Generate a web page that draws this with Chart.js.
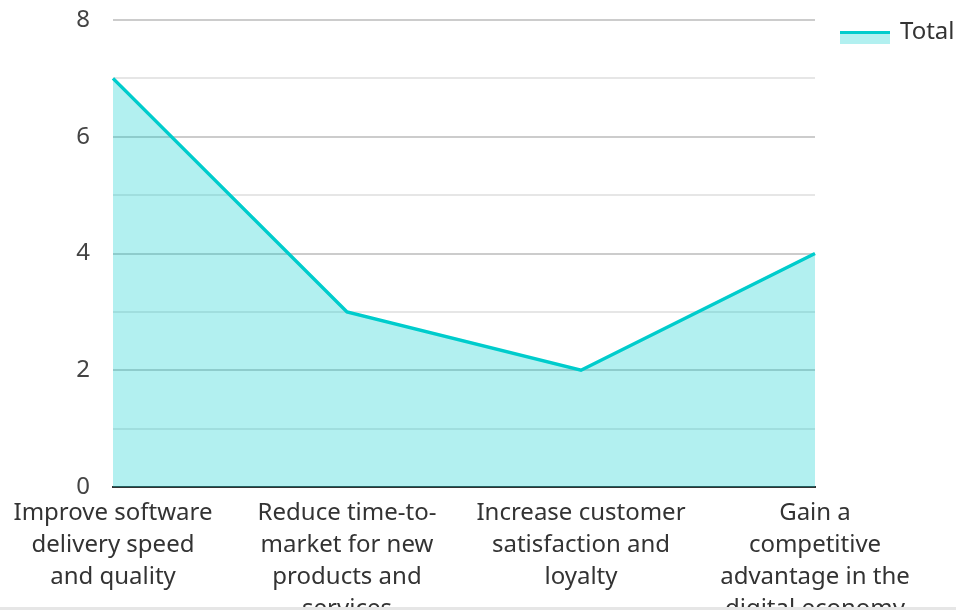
<!DOCTYPE html>
<html>
<head>
<meta charset="utf-8">
<script src="https://cdn.jsdelivr.net/npm/chart.js@4"></script>
<style>
  html, body { margin: 0; padding: 0; background: #fff; overflow: hidden; }
  #wrap { position: relative; width: 956px; height: 635px; }
  #edge { position: fixed; left: 0; top: 607px; width: 956px; height: 3px; background: #e6e6e6; }
</style>
</head>
<body>
<div id="wrap"><canvas id="chart"></canvas></div>
<div id="edge"></div>
<script>
const categories = [
    ["Improve software", "delivery speed", "and quality"],
    ["Reduce time-to-", "market for new", "products and", "services"],
    ["Increase customer", "satisfaction and", "loyalty"],
    ["Gain a", "competitive", "advantage in the", "digital economy"]
];
const totals = [7, 3, 2, 4];
const seriesName = "Total";

const lineColor = "#00cccc";
const fillColor = "rgba(0, 204, 204, 0.3)";

// legend swatch: light area with the line along its top edge
const legendSwatch = {
    id: "legendSwatch",
    afterDraw(chart) {
        const legend = chart.legend;
        if (!legend || !legend.legendHitBoxes) return;
        const ctx = chart.ctx;
        ctx.save();
        legend.legendHitBoxes.forEach(function (b) {
            const top = b.top + b.height / 2 - 1;
            ctx.fillStyle = fillColor;
            ctx.fillRect(b.left, top, 50, 13);
            ctx.fillStyle = lineColor;
            ctx.fillRect(b.left, top, 50, 3);
        });
        ctx.restore();
    }
};

document.addEventListener("DOMContentLoaded", function () {
    const ctx = document.getElementById("chart").getContext("2d");
    new Chart(ctx, {
        type: "line",
        data: {
            labels: categories,
            datasets: [{
                label: seriesName,
                data: totals,
                borderColor: lineColor,
                backgroundColor: fillColor,
                borderWidth: 3.5,
                fill: "origin",
                tension: 0,
                pointRadius: 0,
                pointHoverRadius: 0
            }]
        },
        options: {
            responsive: true,
            maintainAspectRatio: false,
            animation: false,
            layout: { padding: { top: -5, left: 0, right: 0, bottom: 0 } },
            plugins: {
                legend: {
                    position: "right",
                    align: "start",
                    maxWidth: 141,
                    labels: {
                        boxWidth: 48,
                        boxHeight: 13,
                        padding: 25,
                        color: "#333",
                        font: { family: "Noto Sans", size: 24 },
                        generateLabels: function (chart) {
                            return [{
                                text: seriesName,
                                fontColor: "#333",
                                fillStyle: "rgba(0,0,0,0)",
                                strokeStyle: "rgba(0,0,0,0)",
                                lineWidth: 0,
                                datasetIndex: 0
                            }];
                        }
                    }
                },
                tooltip: { enabled: false }
            },
            scales: {
                x: {
                    offset: false,
                    grid: { display: false, drawTicks: false },
                    border: { display: true, color: "#333", width: 2 },
                    ticks: {
                        maxRotation: 0,
                        autoSkip: false,
                        padding: 10,
                        color: "#333",
                        font: { family: "Noto Sans", size: 24, lineHeight: 1.3333 }
                    },
                    afterFit: function (scale) {
                        scale.paddingLeft = 113;
                    }
                },
                y: {
                    min: 0,
                    max: 8,
                    grid: {
                        drawTicks: false,
                        color: function (c) {
                            return c.tick && c.tick.value % 2 === 0 ? "#cccccc" : "#e6e6e6";
                        },
                        lineWidth: 2
                    },
                    border: { display: false },
                    ticks: {
                        stepSize: 1,
                        padding: 23,
                        color: "#444",
                        font: { family: "Noto Sans", size: 24 },
                        callback: function (v) { return v % 2 === 0 ? v : ""; }
                    },
                    afterFit: function (scale) { scale.paddingTop = 20; }
                }
            }
        },
        plugins: [legendSwatch]
    });
});
</script>
</body>
</html>
